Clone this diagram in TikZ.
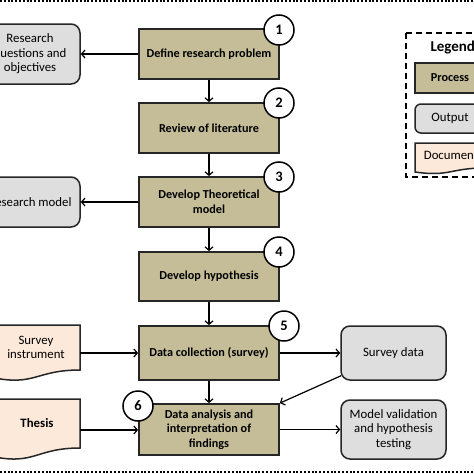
\documentclass[tikz,border=0pt]{standalone}
\usepackage{fontspec}
\setmainfont{Carlito}
\usetikzlibrary{arrows.meta,calc}
\definecolor{proccol}{HTML}{C4BD97}
\definecolor{outcol}{HTML}{DEDEDE}
\definecolor{doccol}{HTML}{FDE9D9}
\tikzset{
  proc/.style={draw=black!85, line width=1.8pt, fill=proccol, minimum width=140pt, align=center, font=\bfseries\fontsize{12.2}{14.5}\selectfont, inner sep=1pt},
  outp/.style={draw=black!85, line width=1.5pt, fill=outcol, rounded corners=9pt, align=center, font=\fontsize{12.8}{14.5}\selectfont, inner sep=1pt},
  docnode/.style={align=center, font=\fontsize{12.8}{14.5}\selectfont, inner sep=0pt},
  docshape/.style={draw=black!85, line width=1.5pt, fill=doccol},
  num/.style={circle, draw=black, line width=1.5pt, fill=white, minimum size=30pt, inner sep=0pt, font=\bfseries\fontsize{14.5}{14.5}\selectfont},
  conn/.style={line width=1.2pt, -{Straight Barb[length=3.5pt,width=8pt,line width=1.2pt]}},
  sep/.style={line width=2pt, dash pattern=on 2pt off 1.8pt},
}
\begin{document}
\begin{tikzpicture}[x=1pt,y=-1pt]
\useasboundingbox (0,0) rectangle (474,474);
\clip (0,0) rectangle (474,474);
\fill[white] (0,0) rectangle (474,474);
% separators
\coordinate (t1) at (0,1.2); \coordinate (t2) at (474,1.2);
\coordinate (b1) at (0,472.2); \coordinate (b2) at (474,472.2);
\draw[sep] (t1) -- (t2);
\draw[sep] (b1) -- (b2);
% process boxes
\node[proc, minimum height=50pt] (p1) at (209,54) {Define research problem};
\node[proc, minimum height=50pt] (p2) at (209,128) {Review of literature};
\node[proc, minimum height=50pt] (p3) at (209,202) {Develop Theoretical\\model};
\node[proc, minimum height=49pt] (p4) at (209,276.5) {Develop hypothesis};
\node[proc, minimum height=54pt] (p5) at (209,353) {Data collection (survey)};
\node[proc, minimum height=51pt] (p6) at (209,429.5) {Data analysis and\\interpretation of\\findings};
% numbers
\node[num] (n1) at (279,30) {1};
\node[num] (n2) at (279,103) {2};
\node[num] (n3) at (279,177) {3};
\node[num] (n4) at (279,252) {4};
\node[num] (n5) at (284,326) {5};
\node[num] (n6) at (138,406) {6};
% outputs
\node[outp, minimum width=100pt, minimum height=60pt] (o1) at (30,54) {Research\\questions and\\objectives};
\node[outp, minimum width=100pt, minimum height=50pt] (o2) at (30,202) {Research model};
\node[outp, minimum width=105pt, minimum height=54pt] (o3) at (393.5,353) {Survey data};
\node[outp, minimum width=105pt, minimum height=59pt] (o4) at (393.5,429.5) {Model validation\\and hypothesis\\testing};
% documents
\path[docshape] (-10,325) -- (80,325) -- (80,370) .. controls (35,370) and (35,387) .. (-10,377) -- cycle;
\node[docnode] (d1) at (36,347.5) {Survey\\instrument};
\path[docshape] (-10,399) -- (80,399) -- (80,448) .. controls (35,448) and (35,466) .. (-10,456) -- cycle;
\node[docnode, font=\bfseries\fontsize{12.8}{14.5}\selectfont] (d2) at (37,423.5) {Thesis};
\coordinate (d1e) at (80,353);
\coordinate (d2e) at (80,430);
% legend
\draw[line width=1.6pt, dash pattern=on 6pt off 4pt] (406,33) rectangle (510,177);
\node[font=\bfseries\fontsize{15}{15}\selectfont, anchor=west] (lt) at (427,48) {Legend};
\node[proc, minimum width=70pt, minimum height=30pt] (lp) at (450,78) {Process};
\node[outp, minimum width=70pt, minimum height=29pt, rounded corners=6pt] (lo) at (450,118.5) {Output};
\path[docshape] (415,143) -- (485,143) -- (485,168) .. controls (450,168) and (450,177) .. (415,172) -- cycle;
\node[docnode] (ld) at (451,155.5) {Document};
% connectors
\draw[conn] (p1) -- (p2);
\draw[conn] (p2) -- (p3);
\draw[conn] (p3) -- (p4);
\draw[conn] (p4) -- (p5);
\draw[conn] (p5) -- (p6);
\draw[conn] (p1) -- (o1);
\draw[conn] (p3) -- (o2);
\draw[conn] (p5) -- (o3);
\draw[conn] (p6) -- (o4);
\draw[conn] (d1e) -- (p5.west);
\draw[conn] (d2e) -- (p6.west |- d2e);
\draw[conn] ($(o3.south west)+(0.8,-5)$) -- (p6.north east);
\end{tikzpicture}
\end{document}
